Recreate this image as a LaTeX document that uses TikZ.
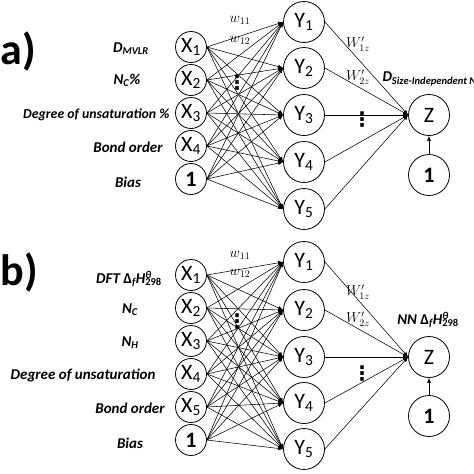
\documentclass[tikz,border=0pt]{standalone}
\usepackage{fontspec}
\setmainfont{Carlito}
\newfontfamily\dotsfont{DejaVu Sans}
\usetikzlibrary{arrows.meta, positioning}

\begin{document}
\begin{tikzpicture}[x=1pt, y=-1pt,
	neuron/.style={circle, draw, line width=0.8pt, minimum size=31pt, inner sep=0pt, font=\fontsize{22}{22}\selectfont},
	hidden/.style={neuron, minimum size=41pt},
	feature/.style={font=\fontsize{15}{15}\selectfont\bfseries\itshape},
	weight/.style={font=\fontsize{14}{14}\selectfont, inner sep=1pt},
	panel/.style={anchor=west, font=\fontsize{44}{44}\selectfont\bfseries},
	dots/.style={font=\fontsize{20}{20}\dotsfont\bfseries, inner sep=0pt},
	link/.style={->, >={Latex[length=5pt, width=4pt]}, line width=0.55pt}]

	\useasboundingbox (0,0) rectangle (474,474);

	% a)
	\node[panel] (pa) at (-3,52) {a)};
	\foreach \i/\y in {1/47, 2/80, 3/113, 4/146}
		\node[neuron] (ax\i) at (191,\y) {X\textsubscript{\i}};
	\node[neuron, font=\fontsize{22}{22}\selectfont\bfseries] (ax5) at (191,179) {1};
	\foreach \j/\y in {1/22, 2/68, 3/115, 4/162, 5/209}
		\node[hidden] (ay\j) at (304,\y) {Y\textsubscript{\j}};
	\node[hidden] (az) at (429,115) {Z};
	\node[hidden, font=\fontsize{22}{22}\selectfont\bfseries] (ab) at (429,175) {1};

	\node[feature] (la1) at (131,49) {D\textsubscript{MVLR}};
	\node[feature] (la2) at (127,80) {N\textsubscript{C}\%};
	\node[feature, anchor=east, font=\fontsize{13.8}{14}\selectfont\bfseries\itshape] (la3) at (173,115) {Degree of unsaturation \%};
	\node[feature] (la4) at (128,147) {Bond order};
	\node[feature] (la5) at (128,182) {Bias};

	\foreach \i in {1,...,5}
		\foreach \j in {1,...,5}
			\draw[link] (ax\i.east) -- (ay\j.west);
	\foreach \j in {1,...,5}
		\draw[link] (ay\j.east) -- (az.west);
	\draw[link] (ab) -- (az);

	\node[weight] (wa11) at (240,20) {$w_{11}$};
	\node[weight] (wa12) at (240,40) {$w_{12}$};
	\node[weight] (wa1z) at (358,44) {$W'_{1z}$};
	\node[weight] (wa2z) at (358,77) {$W'_{2z}$};
	\node[dots] (da1) at (237,83) {⋮};
	\node[dots] (da2) at (362,120) {⋮};
	\node[anchor=west, font=\fontsize{15}{15}\selectfont\bfseries\itshape] (za) at (379,79) {D\textsubscript{Size-Independent NN}};

	% b)
	\node[panel] (pb) at (-3,272) {b)};
	\foreach \i/\y in {1/275, 2/308, 3/341, 4/374, 5/407}
		\node[neuron] (bx\i) at (191,\y) {X\textsubscript{\i}};
	\node[neuron, font=\fontsize{22}{22}\selectfont\bfseries] (bx6) at (191,440) {1};
	\foreach \j/\y in {1/262, 2/310, 3/357, 4/403, 5/449}
		\node[hidden] (by\j) at (304,\y) {Y\textsubscript{\j}};
	\node[hidden] (bz) at (429,357) {Z};
	\node[hidden, font=\fontsize{22}{22}\selectfont\bfseries] (bb) at (429,416) {1};

	\node[feature] (lb1) at (129,279) {DFT {\upshape Δ}\textsubscript{f}H\rlap{\textsuperscript{θ}}\textsubscript{\upshape 298}};
	\node[feature] (lb2) at (130,310) {N\textsubscript{C}};
	\node[feature] (lb3) at (130,343) {N\textsubscript{H}};
	\node[feature, anchor=east] (lb4) at (159,375) {Degree of unsaturation};
	\node[feature] (lb5) at (130,408) {Bond order};
	\node[feature] (lb6) at (130,443) {Bias};

	\foreach \i in {1,...,6}
		\foreach \j in {1,...,5}
			\draw[link] (bx\i.east) -- (by\j.west);
	\foreach \j in {1,...,5}
		\draw[link] (by\j.east) -- (bz.west);
	\draw[link] (bb) -- (bz);

	\node[weight] (wb11) at (240,255) {$w_{11}$};
	\node[weight] (wb12) at (240,273) {$w_{12}$};
	\node[weight] (wb1z) at (358,292) {$W'_{1z}$};
	\node[weight] (wb2z) at (358,319) {$W'_{2z}$};
	\node[dots] (db1) at (237,322) {⋮};
	\node[dots] (db2) at (362,374) {⋮};
	\node[feature] (zb) at (428,320) {NN {\upshape Δ}\textsubscript{f}H\rlap{\textsuperscript{θ}}\textsubscript{\upshape 298}};

\end{tikzpicture}
\end{document}
